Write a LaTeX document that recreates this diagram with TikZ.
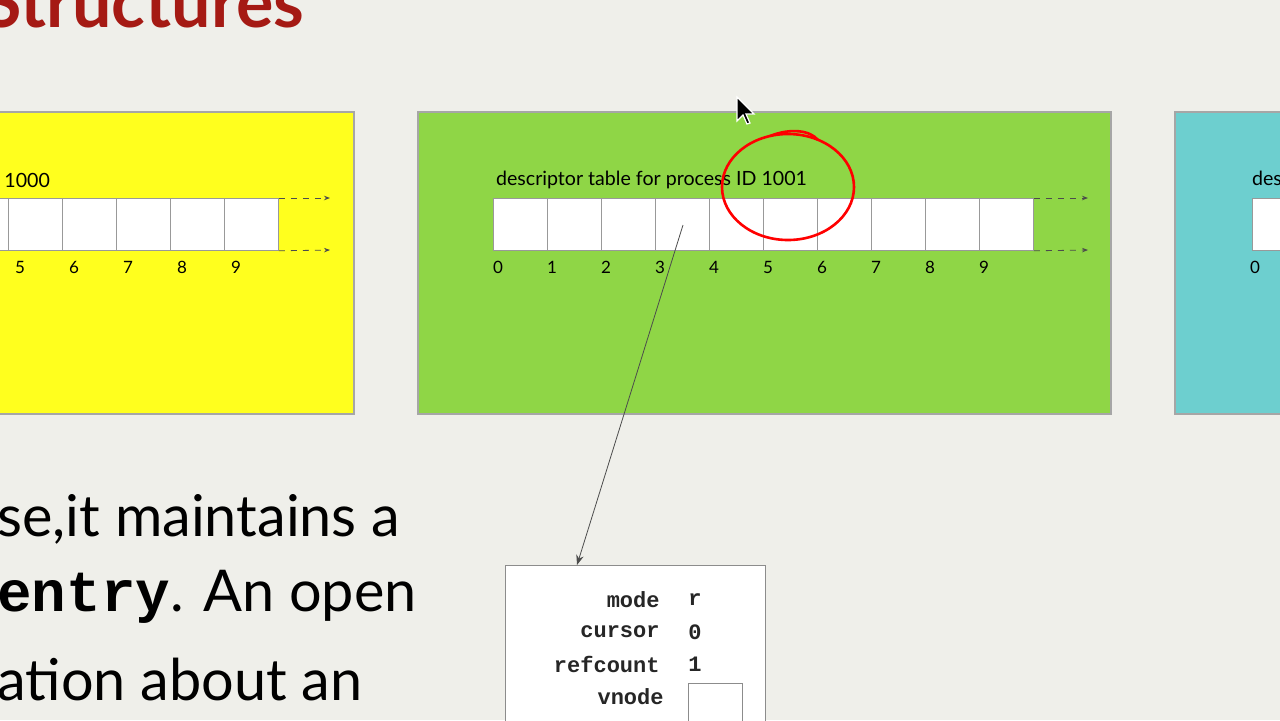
\documentclass[tikz,border=0pt]{standalone}
\usepackage{fontspec}
\setmainfont{Lato}
\setmonofont{Liberation Mono}
\usetikzlibrary{arrows.meta}
\definecolor{bg}{HTML}{EFEFEA}
\definecolor{ttl}{HTML}{A51A14}
\definecolor{yel}{HTML}{FFFF1E}
\definecolor{grn}{HTML}{8FD646}
\definecolor{cyn}{HTML}{6DCFCF}
\tikzset{
 proc/.style={draw=black!35,line width=0.8pt},
 cell/.style={draw=black!40,fill=white,minimum width=27pt,minimum height=26pt,inner sep=0pt,anchor=north west},
 num/.style={font=\fontsize{8.5}{10}\selectfont,anchor=center},
 lbl/.style={font=\fontsize{9.8}{11}\selectfont,anchor=west},
 dasharr/.style={dashed,-{Stealth[length=3pt]},black!70},
 big/.style={font=\fontsize{28.8}{32}\selectfont,anchor=west,inner sep=0pt},
 mono/.style={font=\ttfamily\bfseries\fontsize{11}{13}\selectfont,inner sep=0pt,text=black!85}
}
\begin{document}
\begin{tikzpicture}[x=0.5pt,y=-0.5pt]
\path[fill=bg] (0,0) rectangle (1280,720);
\useasboundingbox (0,0) rectangle (1280,720);
\begin{scope}
\clip (0,0) rectangle (1280,720);
\node[font=\bfseries\fontsize{35}{38}\selectfont,text=ttl,anchor=west,inner sep=0pt] (title) at (-17,2) {Structures};
% yellow
\node[proc,fill=yel,anchor=north west,minimum width=179pt,minimum height=151pt,inner sep=0] (yb) at (-5,111) {};
\node[lbl,anchor=east] (yl) at (57,180) {ID 1000};
\foreach \i in {0,...,5} {\node[cell] (y\i) at (-46+54*\i,198) {};}
\foreach \i/\n in {1/5,2/6,3/7,4/8,5/9} {\node[num] (yn\i) at (-41+54*\i+7,267) {\n};}
\coordinate (ya1) at (330,198); \coordinate (ya2) at (330,250);
\draw[dasharr] (y5.north east) -- (ya1);
\draw[dasharr] (y5.south east) -- (ya2);
% green
\node[proc,fill=grn,anchor=north west,minimum width=346.5pt,minimum height=151pt,inner sep=0] (gb) at (417,111) {};
\node[lbl] (gl) at (489,180) {descriptor table for process ID 1001};
\foreach \i in {0,...,9} {\node[cell] (g\i) at (493+54*\i,198) {};}
\foreach \i in {0,...,9} {\node[num] (gn\i) at (498+54*\i,267) {\i};}
\coordinate (ga1) at (1088,198); \coordinate (ga2) at (1088,250);
\draw[dasharr] (g9.north east) -- (ga1);
\draw[dasharr] (g9.south east) -- (ga2);
% cyan
\node[proc,fill=cyn,anchor=north west,minimum width=60pt,minimum height=151pt,inner sep=0] (cb) at (1174,111) {};
\node[lbl] (cl) at (1245,180) {descriptor};
\node[cell] (c0) at (1252,198) {};
\node[num] (cn0) at (1255,267) {0};
% red circle
\draw[red,line width=1.3pt] (788,187) ellipse [x radius=66,y radius=53];
\draw[red,line width=1.3pt] (770,136) .. controls (790,128) and (810,130) .. (818,140);
% open file entry
\node[draw=black!45,fill=white,anchor=north west,minimum width=130pt,minimum height=85pt,inner sep=0] (fe) at (505,565) {};
\coordinate (src) at (683,225);
\draw[black!70,-{Stealth[length=5pt]}] (src) -- (fe.north west -| 577,565);
\node[mono,anchor=east] (m1) at (660,600) {mode};
\node[mono,anchor=east] (m2) at (660,632) {cursor};
\node[mono,anchor=east] (m3) at (660,664) {refcount};
\node[mono,anchor=east] (m4) at (664,697) {vnode};
\node[mono,anchor=west] (v1) at (688,600) {r};
\node[mono,anchor=west] (v2) at (688,632) {0};
\node[mono,anchor=west] (v3) at (688,664) {1};
\node[draw=black!45,minimum width=27pt,minimum height=20pt,inner sep=0,anchor=north west] (vb) at (688,683) {};
% left text
\node[big] (t1) at (-3,519) {se,it maintains a};
\node[big] (t2) at (-3,597) {\textbf{\ttfamily entry}. An open};
\node[big] (t3) at (-3,680) {ation about an};
% cursor
\draw[fill=black,draw=white,line width=0.6pt] (737,97) -- (737,121) -- (743,115) -- (747,124) -- (750,123) -- (746,114) -- (754,114) -- cycle;
\end{scope}
\end{tikzpicture}
\end{document}
